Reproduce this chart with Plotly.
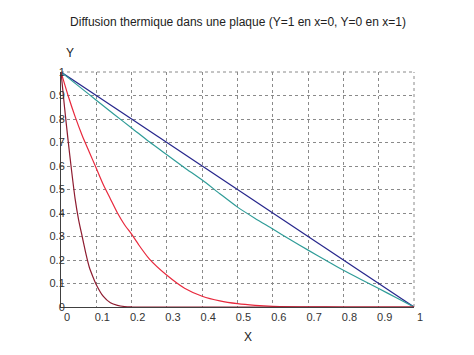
import plotly.graph_objects as go

# Data
x_t1 = [0, 0.01, 0.02, 0.03, 0.04, 0.05, 0.06, 0.07, 0.08, 0.09, 0.10, 0.12, 0.14, 0.16, 0.18, 0.20, 1.0]
y_t1 = [1, 0.85, 0.71, 0.58, 0.46, 0.37, 0.30, 0.23, 0.17, 0.13, 0.095, 0.045, 0.018, 0.007, 0.002, 0.0005, 0]

x_t2 = [0, 0.02, 0.04, 0.06, 0.08, 0.10, 0.12, 0.14, 0.16, 0.18, 0.20, 0.22, 0.25, 0.30, 0.35, 0.40,
        0.45, 0.50, 0.55, 0.60, 0.70, 0.80, 1.0]
y_t2 = [1, 0.90, 0.81, 0.73, 0.66, 0.59, 0.52, 0.46, 0.40, 0.35, 0.31, 0.265, 0.205, 0.135, 0.08, 0.046,
        0.026, 0.014, 0.007, 0.003, 0.001, 0, 0]

x_t3 = [0, 0.05, 0.1, 0.15, 0.2, 0.25, 0.3, 0.35, 0.4, 0.45, 0.5, 0.55, 0.6, 0.65, 0.7, 0.75, 0.8,
        0.85, 0.9, 0.95, 1.0]
y_t3 = [1, 0.940, 0.880, 0.820, 0.762, 0.703, 0.648, 0.593, 0.540, 0.482, 0.425, 0.377, 0.332, 0.286,
        0.242, 0.199, 0.156, 0.117, 0.079, 0.039, 0]

x_t4 = [0, 0.5, 1.0]
y_t4 = [1, 0.5, 0]

tick_vals = [0, 0.1, 0.2, 0.3, 0.4, 0.5, 0.6, 0.7, 0.8, 0.9, 1]
tick_text = ["0", "0.1", "0.2", "0.3", "0.4", "0.5", "0.6", "0.7", "0.8", "0.9", "1"]

FONT = "Liberation Sans, Arial, sans-serif"
TXT = "#222222"

fig = go.Figure()
series = [
    (x_t4, y_t4, "#26268c"),
    (x_t3, y_t3, "#2f9c98"),
    (x_t2, y_t2, "#e8283c"),
    (x_t1, y_t1, "#8e1c30"),
]
for xs, ys, c in series:
    fig.add_trace(go.Scatter(x=xs, y=ys, mode="lines",
                             line=dict(color=c, width=1.2, shape="spline", smoothing=0.6),
                             showlegend=False, hoverinfo="skip"))

axis_common = dict(
    range=[0, 1],
    tickvals=tick_vals,
    ticktext=tick_text,
    showgrid=True,
    gridcolor="#8a8a8a",
    griddash="dot",
    gridwidth=1,
    showline=True,
    linecolor="#404040",
    linewidth=1,
    zeroline=False,
    ticks="",
    tickfont=dict(family=FONT, size=11, color="#333333"),
    fixedrange=True,
    automargin=False,
)

fig.update_xaxes(**axis_common, ticklabelshift=6)
fig.update_yaxes(**axis_common, ticklabelstandoff=-7)

# The page adds an 8px body margin, so the figure is 8px smaller on each axis
W, H = 466, 347
fig.update_layout(
    width=W,
    height=H,
    margin=dict(l=53, r=60, t=64, b=48),
    paper_bgcolor="white",
    plot_bgcolor="white",
    font=dict(family=FONT, size=11, color=TXT),
    title=dict(text="Diffusion thermique dans une plaque (Y=1 en x=0, Y=0 en x=1)",
               x=230 / W, xanchor="center", xref="container",
               y=1 - 14 / H, yanchor="middle", yref="container",
               font=dict(family=FONT, size=12, color=TXT)),
    annotations=[
        dict(text="Y", x=0.0255, y=1.081, xref="paper", yref="paper", showarrow=False,
             xanchor="center", yanchor="middle",
             font=dict(family=FONT, size=12, color=TXT)),
        dict(text="X", x=0.53, y=-0.128, xref="paper", yref="paper", showarrow=False,
             xanchor="center", yanchor="middle",
             font=dict(family=FONT, size=12, color=TXT)),
    ],
    shapes=[
        dict(type="line", xref="paper", yref="paper", x0=0, x1=1, y0=1, y1=1,
             line=dict(color="#8a8a8a", width=1, dash="dot"), layer="below"),
        dict(type="line", xref="paper", yref="paper", x0=1, x1=1, y0=0, y1=1,
             line=dict(color="#8a8a8a", width=1, dash="dot"), layer="below"),
    ],
)

fig.write_html("out.html")
